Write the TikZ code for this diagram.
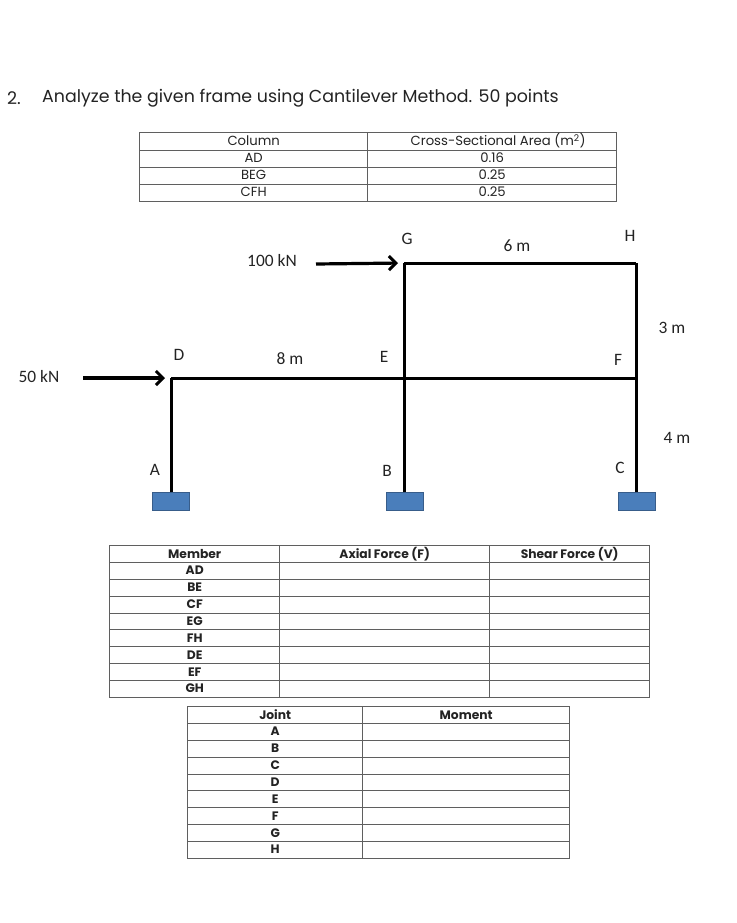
\documentclass[tikz,border=0pt]{standalone}
\usepackage{fontspec}
\usepackage{array}
\usepackage{colortbl}
\setmainfont{Poppins}
\newfontfamily\framefont{Carlito}
\usetikzlibrary{arrows.meta,positioning}
\definecolor{gridgray}{RGB}{95,95,95}
\definecolor{supportblue}{RGB}{74,126,187}
\definecolor{supportedge}{RGB}{56,93,138}
\definecolor{inktext}{RGB}{35,35,35}
\setlength{\tabcolsep}{0pt}
\setlength{\arrayrulewidth}{1pt}
\renewcommand{\arraystretch}{0}
\arrayrulecolor{gridgray}
\newcolumntype{A}[1]{>{\centering\arraybackslash\rule[-4pt]{0pt}{16pt}}p{#1}}
\newcolumntype{B}[1]{>{\centering\arraybackslash\rule[-4pt]{0pt}{15.85pt}}p{#1}}

\begin{document}
\begin{tikzpicture}[x=1pt,y=-1pt,->,>={Straight Barb[length=7pt,width=14pt,line width=3pt]},
member/.style={-,line width=3pt,black},
load/.style={line width=3.2pt,black,shorten >=6pt},
support/.style={draw=supportedge,fill=supportblue,line width=1pt,minimum width=37pt,minimum height=18pt,inner sep=0pt},
lbl/.style={font=\framefont\fontsize{17.4}{19}\selectfont,text=inktext,inner sep=0pt},
grid/.style={anchor=north west,inner sep=0pt,text=inktext},
]
\useasboundingbox (0,0) rectangle (736,923);

% heading
\node[anchor=west,inner sep=0pt,text=inktext,font=\fontsize{17.4}{19}\selectfont](num) at (7,98){2.};
\node[anchor=west,inner sep=0pt,text=inktext,font=\fontsize{17.4}{19}\selectfont](title) at (42,98){Analyze the given frame using Cantilever Method. 50 points};

% areas
\node[grid,font=\fontsize{13.2}{15}\selectfont](areas) at (139,132){%
\begin{tabular}{|A{227pt}|A{248pt}|}\hline
Column & \hspace*{12pt}Cross-Sectional Area (m\textsuperscript{2})\\\hline
AD & 0.16\\\hline
BEG & 0.25\\\hline
CFH & 0.25\\\hline
\end{tabular}};

% joints
\coordinate (A) at (171,492);
\coordinate (B) at (404,492);
\coordinate (C) at (636,492);
\coordinate (D) at (171,378);
\coordinate (E) at (404,378);
\coordinate (F) at (636,378);
\coordinate (G) at (404,263);
\coordinate (H) at (636,263);
\coordinate (tailD) at (83,378);
\coordinate (tailG) at (316,264);

\node[support](supA) at (171,501){};
\node[support](supB) at (405,501){};
\node[support](supC) at (637,501){};

\path (A) edge[member] (D)
      (B) edge[member] (G)
      (C) edge[member] (H)
      (D) edge[member] (F)
      (G) edge[member] (H)
      (tailD) edge[load] (D)
      (tailG) edge[load] (G)
;

\node[lbl](lG) at (407,239){G};
\node[lbl](lH) at (630,236){H};
\node[lbl](lD) at (179,355){D};
\node[lbl](lE) at (384,357){E};
\node[lbl](lF) at (618,360){F};
\node[lbl](lA) at (155,470){A};
\node[lbl](lB) at (387,471){B};
\node[lbl](lC) at (620,468){C};
\node[lbl](span6) at (517,246){6 m};
\node[lbl](span8) at (290,359){8 m};
\node[lbl](rise3) at (672,328){3 m};
\node[lbl](rise4) at (677,438){4 m};
\node[lbl](load100) at (272,261){100 kN};
\node[lbl](load50) at (39,377){50 kN};

% members
\node[grid,font=\bfseries\fontsize{12.3}{14}\selectfont](members) at (109,545){%
\begin{tabular}{|B{169pt}|B{209pt}|B{159pt}|}\hline
Member & Axial Force (F) & Shear Force (V)\\\hline
AD & & \\\hline
BE & & \\\hline
CF & & \\\hline
EG & & \\\hline
FH & & \\\hline
DE & & \\\hline
EF & & \\\hline
GH & & \\\hline
\end{tabular}};

% moments
\node[grid,font=\bfseries\fontsize{12.3}{14}\selectfont](moments) at (187,706){%
\begin{tabular}{|B{174pt}|B{206pt}|}\hline
Joint & Moment\\\hline
A & \\\hline
B & \\\hline
C & \\\hline
D & \\\hline
E & \\\hline
F & \\\hline
G & \\\hline
H & \\\hline
\end{tabular}};
\end{tikzpicture}
\end{document}
